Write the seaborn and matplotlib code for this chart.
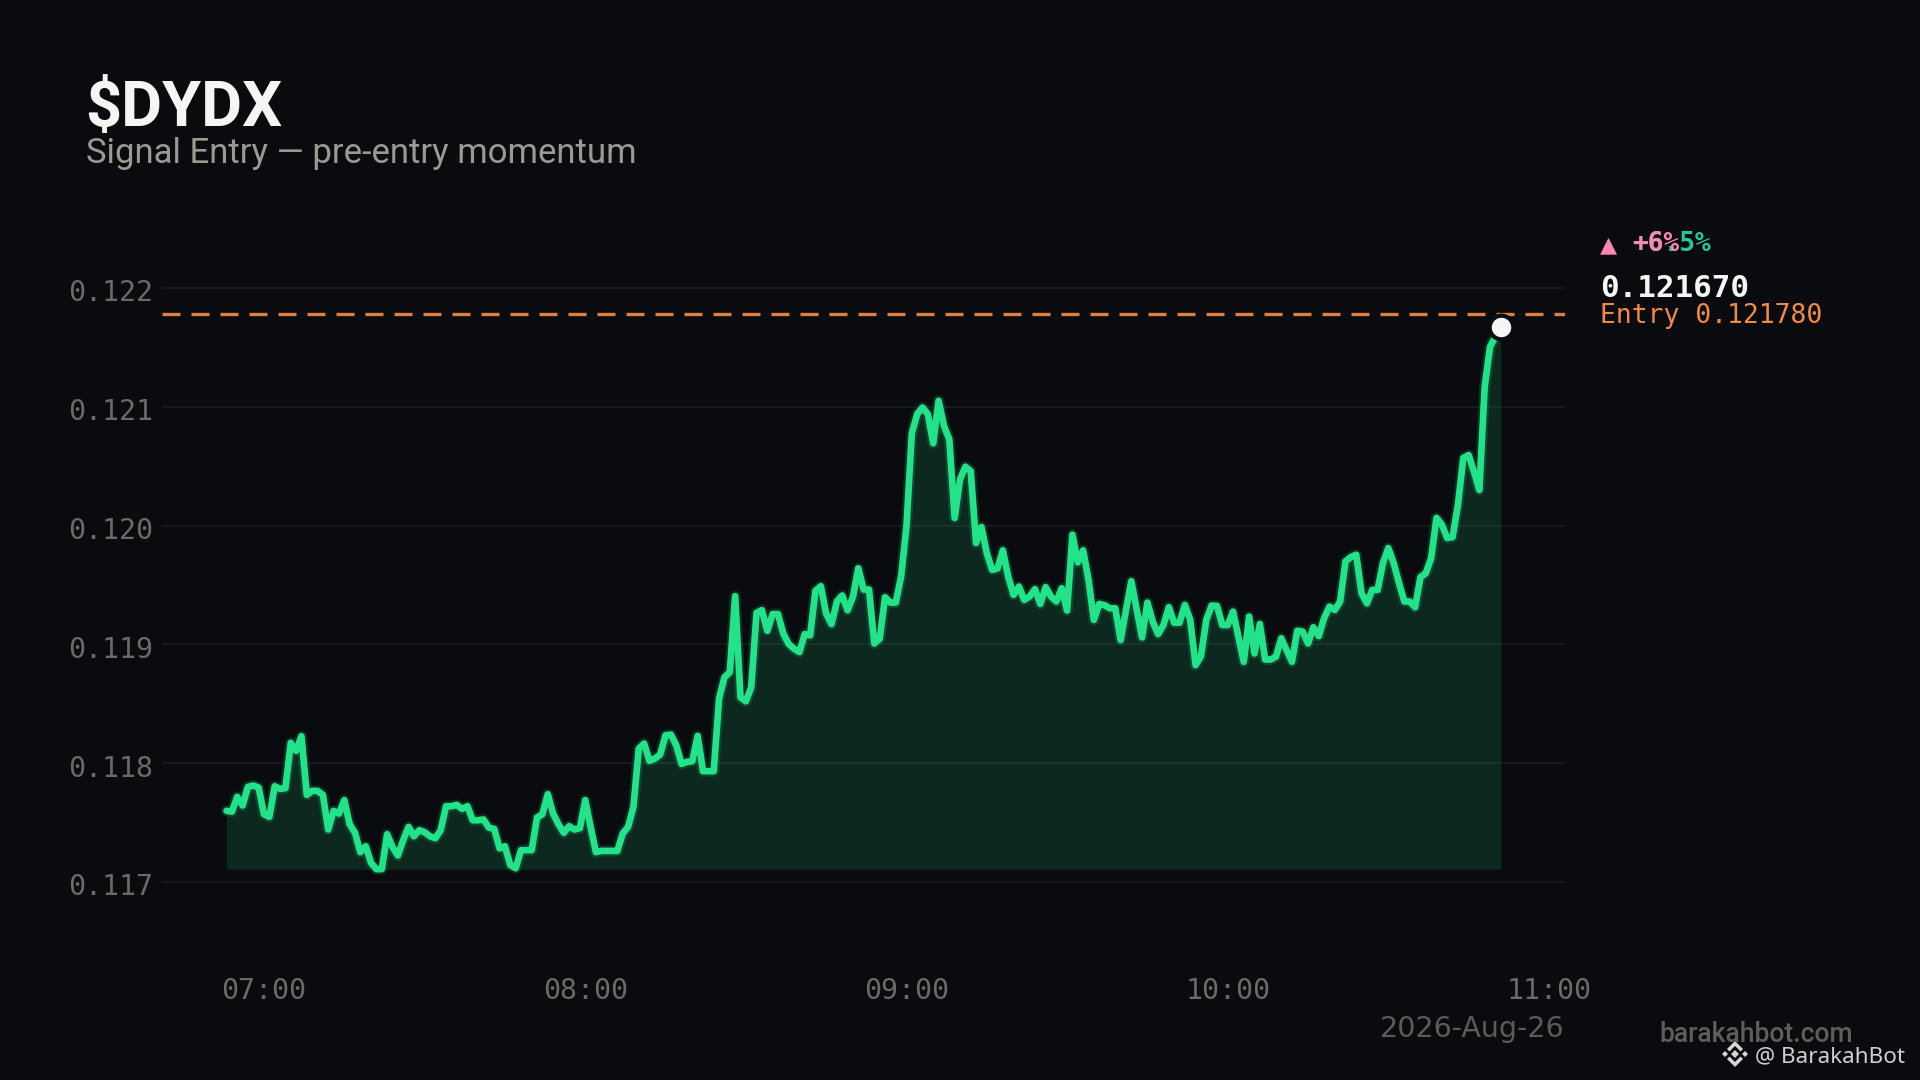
import numpy as np
import pandas as pd
import matplotlib
matplotlib.use("Agg")
import matplotlib.pyplot as plt
from matplotlib.patches import Polygon
from matplotlib.transforms import ScaledTranslation
import seaborn as sns

TITLE = "$DYDX"
SUBTITLE = "Signal Entry \u2014 pre-entry momentum"
DATE_LABEL = "2026-Aug-26"
FIRST_MINUTE = -7   # minutes after 07:00
ENTRY_PRICE = 0.121780
LAST_PRICE = 0.121670
Y_TICKS = [0.117, 0.118, 0.119, 0.120, 0.121, 0.122]
X_TICK_MINUTES = [0, 60, 120, 180, 240]
X_TICK_LABELS = ["07:00", "08:00", "09:00", "10:00", "11:00"]

PRICES_MILLI = [
    117.599, 117.593, 117.717, 117.644, 117.801, 117.812, 117.795, 117.571, 117.548, 117.806,
    117.784, 117.790, 118.171, 118.104, 118.227, 117.733, 117.767, 117.767, 117.733, 117.442,
    117.599, 117.576, 117.689, 117.487, 117.414, 117.251, 117.301, 117.161, 117.108, 117.108,
    117.402, 117.296, 117.223, 117.352, 117.464, 117.385, 117.436, 117.419, 117.385, 117.369,
    117.436, 117.638, 117.638, 117.649, 117.616, 117.638, 117.520, 117.520, 117.526, 117.458,
    117.447, 117.284, 117.301, 117.144, 117.116, 117.268, 117.268, 117.268, 117.543, 117.571,
    117.739, 117.576, 117.487, 117.414, 117.470, 117.442, 117.453, 117.689, 117.464, 117.251,
    117.262, 117.262, 117.262, 117.262, 117.408, 117.464, 117.632, 118.123, 118.166, 118.020,
    118.039, 118.073, 118.235, 118.241, 118.151, 117.994, 118.011, 118.017, 118.230, 117.933,
    117.933, 117.933, 118.546, 118.723, 118.767, 119.406, 118.555, 118.521, 118.639, 119.266,
    119.288, 119.115, 119.255, 119.255, 119.092, 119.003, 118.964, 118.936, 119.087, 119.076,
    119.451, 119.490, 119.260, 119.171, 119.361, 119.412, 119.288, 119.400, 119.641, 119.462,
    119.462, 119.008, 119.048, 119.397, 119.352, 119.352, 119.572, 119.994, 120.778, 120.938,
    120.994, 120.938, 120.693, 121.051, 120.840, 120.727, 120.065, 120.389, 120.496, 120.459,
    119.854, 119.989, 119.769, 119.628, 119.639, 119.792, 119.572, 119.417, 119.487, 119.375,
    119.403, 119.465, 119.341, 119.482, 119.403, 119.361, 119.473, 119.285, 119.924, 119.690,
    119.792, 119.544, 119.206, 119.341, 119.330, 119.304, 119.304, 119.037, 119.290, 119.532,
    119.296, 119.059, 119.352, 119.192, 119.087, 119.163, 119.313, 119.183, 119.183, 119.332,
    119.206, 118.825, 118.901, 119.206, 119.327, 119.324, 119.163, 119.163, 119.276, 119.065,
    118.854, 119.234, 118.924, 119.172, 118.873, 118.873, 118.896, 119.051, 118.952, 118.854,
    119.115, 119.107, 119.008, 119.144, 119.070, 119.220, 119.318, 119.290, 119.361, 119.699,
    119.735, 119.755, 119.431, 119.346, 119.459, 119.459, 119.685, 119.811, 119.685, 119.516,
    119.361, 119.361, 119.313, 119.566, 119.600, 119.727, 120.065, 120.008, 119.896, 119.904,
    120.173, 120.569, 120.594, 120.454, 120.300, 121.169, 121.506, 121.590, 121.670,
]

BG = "#0a0b0e"
GREEN = "#22e28a"
GRID = "#17181b"
TICK = "#6b6a64"
ORANGE = "#f28a45"
W, H = 1920, 1080


def fx(px):
    return px / W


def fy(px):
    return 1 - px / H


sns.set_theme(style="dark", rc={"figure.facecolor": BG, "axes.facecolor": BG})
MONO = ["DejaVu Sans Mono"]

prices = np.array(PRICES_MILLI) / 1000
df = pd.DataFrame({"minute": FIRST_MINUTE + np.arange(len(prices)), "price": prices})

fig = plt.figure(figsize=(19.2, 10.8), dpi=100, facecolor=BG)
ax_top, ax_bottom, ax_left, ax_right = 220, 960, 162, 1565
ax = fig.add_axes([fx(ax_left), fy(ax_bottom), (ax_right - ax_left) / W, (ax_bottom - ax_top) / H])
ax.set_facecolor(BG)

for tick in Y_TICKS:
    ax.axhline(tick, color=GRID, lw=1.5, zorder=1)

ax.fill_between(df["minute"], df["price"], df["price"].min(), color=GREEN, alpha=0.14, lw=0, zorder=2)
sns.lineplot(data=df, x="minute", y="price", ax=ax, color=GREEN, lw=8.0, alpha=0.16,
             zorder=3, errorbar=None, solid_joinstyle="round", solid_capstyle="round")
sns.lineplot(data=df, x="minute", y="price", ax=ax, color=GREEN, lw=4.8,
             zorder=4, errorbar=None, solid_joinstyle="round", solid_capstyle="round")
ax.axhline(ENTRY_PRICE, color="#dd7f42", lw=2.4, ls=(0, (5.4, 3.3)), zorder=5)
ax.scatter(df["minute"].iloc[-1], LAST_PRICE, s=290, color="#f5f5f3", edgecolor=BG, linewidth=3.0, zorder=6)

ax.set_xlim(-19.05, 243.0)
ax.set_ylim(0.122 - (ax_bottom - 288) / 118800, 0.122 + (288 - ax_top) / 118800)
ax.set_xticks(X_TICK_MINUTES, X_TICK_LABELS)
ax.set_yticks(Y_TICKS, [f"{v:.3f}" for v in Y_TICKS])
ax.set_xlabel("")
ax.set_ylabel("")
ax.tick_params(axis="both", length=0, labelsize=20.3, labelcolor=TICK)
ax.tick_params(axis="y", pad=6.5)
ax.tick_params(axis="x", pad=12.5)
for lab in ax.get_xticklabels() + ax.get_yticklabels():
    lab.set_family(MONO)
shift = ScaledTranslation(0, -2.4 / 100, fig.dpi_scale_trans)
for lab in ax.get_yticklabels():
    lab.set_transform(lab.get_transform() + shift)
for s in ax.spines.values():
    s.set_visible(False)
ax.grid(False)

fig.text(fx(85), fy(126), TITLE, family="Roboto", weight="bold", fontsize=45.4, color="#f5f5f3", va="baseline")
fig.text(fx(86), fy(163), SUBTITLE, family="Roboto", fontsize=25, color="#9a9a92", va="baseline")

fig.text(fx(1600), fy(251), "\u25b2", family="DejaVu Sans", fontsize=16, color="#ff85b3", va="baseline")
fig.text(fx(1632), fy(251), "+6.5%", family=MONO, weight="bold", fontsize=18.8, color="#22c9a0", va="baseline")
fig.text(fx(1632), fy(251), "+6%", family=MONO, weight="bold", fontsize=18.8, color="#ff85b3", va="baseline")
fig.text(fx(1600), fy(297), f"{LAST_PRICE:.6f}", family=MONO, weight="bold", fontsize=22.3, color="#f5f5f3", va="baseline")
fig.text(fx(1600), fy(323), f"Entry {ENTRY_PRICE:.6f}", family=MONO, fontsize=19, color=ORANGE, va="baseline")

fig.text(fx(1565), fy(1037), DATE_LABEL, family="DejaVu Sans", fontsize=20.5, color="#5c5b56", ha="right", va="baseline")
fig.text(fx(1659), fy(1042), "barakahbot.com", family="Roboto", weight="medium", fontsize=19.1, color="#5e5e58", va="baseline")
fig.text(fx(1755), fy(1062), "@ BarakahBot", family="Noto Sans", fontsize=16.2, color="#cfcfcf", va="baseline")

# small diamond logo of the watermark
cx, cy = 1735, 1054
logo = [
    [(-4, 0), (0, -4), (4, 0), (0, 4)],
    [(-13, 0), (-10, -3), (-7, 0), (-10, 3)],
    [(13, 0), (10, -3), (7, 0), (10, 3)],
    [(-8, -5), (0, -13), (8, -5), (5.5, -2.5), (0, -8), (-5.5, -2.5)],
    [(-8, 5), (0, 13), (8, 5), (5.5, 2.5), (0, 8), (-5.5, 2.5)],
]
for shape in logo:
    fig.add_artist(Polygon([(fx(cx + a), fy(cy + b)) for a, b in shape], closed=True,
                           transform=fig.transFigure, color="#d6d6d6", lw=0))

fig.savefig("out.png", dpi=100, facecolor=BG)
